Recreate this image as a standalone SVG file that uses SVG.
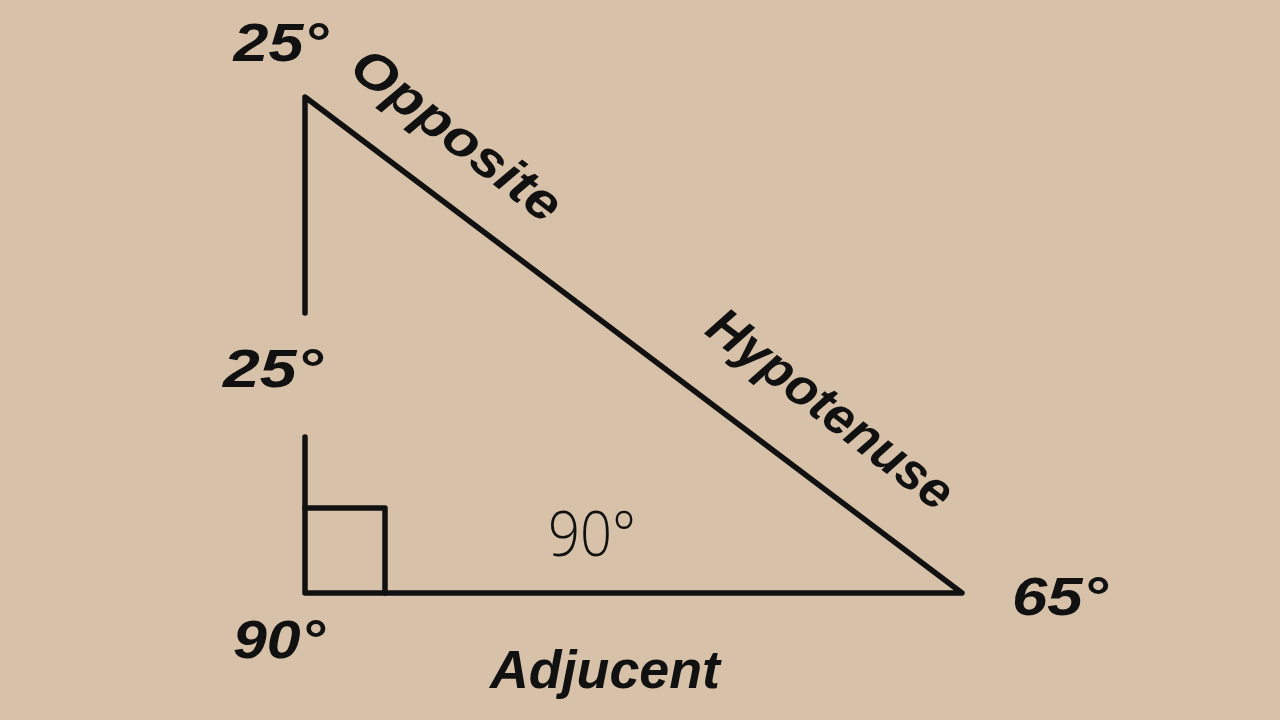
<svg xmlns="http://www.w3.org/2000/svg" width="1280" height="720" viewBox="0 0 1280 720">
<style>
.ln{stroke:#111;stroke-width:5.5;stroke-linecap:round;stroke-linejoin:round;fill:none}
.hb{font-family:"Liberation Sans","DejaVu Sans",sans-serif;font-weight:bold;font-style:italic;fill:#111}
.th{font-family:"Open Sans","DejaVu Sans",sans-serif;font-weight:300;fill:#111}
</style>
<rect width="1280" height="720" fill="#d7c2a9"/>
<g id="triangle">
<path class="ln" d="M305,313 L305,97 L962,593 L305,593 L305,437"/>
<path class="ln" d="M305,508 L385,508 L385,593"/>
</g>
<g id="labels">
<text class="hb" x="281" y="61" font-size="54" text-anchor="middle" textLength="95" lengthAdjust="spacingAndGlyphs">25°</text>
<text class="hb" x="273" y="387" font-size="54" text-anchor="middle" textLength="100" lengthAdjust="spacingAndGlyphs">25°</text>
<text class="hb" x="279" y="658" font-size="54" text-anchor="middle" textLength="92" lengthAdjust="spacingAndGlyphs">90°</text>
<text class="hb" x="1060" y="615" font-size="54" text-anchor="middle" textLength="96" lengthAdjust="spacingAndGlyphs">65°</text>
<text class="th" x="592" y="556" font-size="62" text-anchor="middle" textLength="88" lengthAdjust="spacingAndGlyphs">90°</text>
<text class="hb" x="605" y="688" font-size="54" text-anchor="middle" textLength="230" lengthAdjust="spacingAndGlyphs">Adjucent</text>
<text class="hb" font-size="52" text-anchor="middle" textLength="250" lengthAdjust="spacingAndGlyphs" transform="translate(456,136) rotate(37.5)" y="16">Opposite</text>
<text class="hb" font-size="52" text-anchor="middle" textLength="295" lengthAdjust="spacingAndGlyphs" transform="translate(830,410) rotate(37.5)" y="16">Hypotenuse</text>
</g>
</svg>
